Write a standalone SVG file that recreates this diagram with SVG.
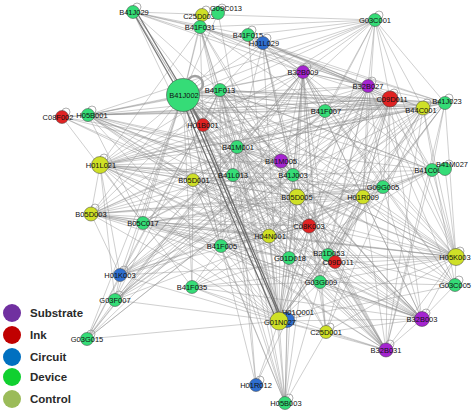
<svg xmlns="http://www.w3.org/2000/svg" width="474" height="414" viewBox="0 0 474 414">
<style>
.e{stroke:#8c8c8c;stroke-width:.7;fill:none;stroke-opacity:.6}
.lp{fill:none;stroke:#9a9a9a;stroke-width:.8}
circle.g{fill:#35dc77}
circle.y{fill:#cfe027}
circle.r{fill:#e02323}
circle.b{fill:#2f6fd0}
circle.p{fill:#a524d0}
.n circle{stroke:#3c3c3c;stroke-width:.5}
.n text{font-family:"Liberation Sans",Arial,sans-serif;font-size:7.5px;fill:#111;text-anchor:middle}
.lg text{font-family:"Liberation Sans",Arial,sans-serif;font-size:11.5px;font-weight:bold;fill:#2a2a2a}
</style>
<rect width="474" height="414" fill="#fff"/>
<g id="connectors">
<path class="e" d="M183 95L200 27M183 95L202 15M183 95L218 13M183 95L248 35M183 95L263 43M183 95L220 90M183 95L303 72M183 95L368 86M183 95L375 20M183 95L390 99M183 95L423 108M183 95L445 103M183 95L325 111M183 95L88 115M183 95L237 147M183 95L281 161M183 95L100 165M183 95L233 175M183 95L293 175M183 95L193 180M183 95L297 197M183 95L363 197M183 95L383 187M183 95L432 170M183 95L91 214M183 95L143 223M183 95L309 226M183 95L269 236M183 95L221 246M183 95L289 258M183 95L328 255M183 95L456 257M183 95L120 275M183 95L320 282M183 95L455 285M183 95L192 287M183 95L115 300M183 95L287 320M183 95L422 319M183 95L326 332M183 95L87 339M183 95L386 350M183 95L256 385M183 95L285 403"/>
<path class="e" d="M279 321L133 12M279 321L200 27M279 321L218 13M279 321L248 35M279 321L263 43M279 321L220 90M279 321L303 72M279 321L368 86M279 321L375 20M279 321L390 99M279 321L423 108M279 321L445 103M279 321L325 111M279 321L88 115M279 321L203 125M279 321L237 147M279 321L281 161M279 321L100 165M279 321L233 175M279 321L293 175M279 321L193 180M279 321L297 197M279 321L363 197M279 321L383 187M279 321L91 214M279 321L143 223M279 321L309 226M279 321L269 236M279 321L221 246M279 321L289 258M279 321L328 255M279 321L456 257M279 321L120 275M279 321L320 282M279 321L455 285M279 321L192 287M279 321L115 300M279 321L422 319M279 321L326 332M279 321L87 339M279 321L386 350M279 321L256 385M279 321L285 403"/>
<path class="e" d="M456 257L375 20M456 257L303 72M456 257L368 86M456 257L390 99M456 257L423 108M456 257L445 103M456 257L220 90M456 257L237 147M456 257L100 165M456 257L88 115M456 257L363 197M456 257L383 187M456 257L432 170M456 257L445 169M456 257L269 236M456 257L289 258M456 257L328 255M456 257L309 226M456 257L297 197M456 257L455 285M456 257L422 319M456 257L386 350M456 257L326 332M456 257L320 282M456 257L192 287M456 257L120 275M456 257L91 214M456 257L143 223M456 257L325 111M456 257L293 175"/>
<path class="e" d="M390 99L375 20M390 99L368 86M390 99L303 72M390 99L423 108M390 99L445 103M390 99L325 111M390 99L88 115M390 99L62 117M390 99L100 165M390 99L237 147M390 99L281 161M390 99L293 175M390 99L297 197M390 99L363 197M390 99L383 187M390 99L309 226M390 99L328 255M390 99L335 262M390 99L120 275M390 99L115 300M390 99L87 339M390 99L422 319M390 99L386 350M390 99L326 332M390 99L143 223M390 99L91 214M390 99L220 90M390 99L263 43M390 99L248 35M390 99L203 125M390 99L432 170"/>
<path class="e" d="M100 165L91 214M100 165L120 275M100 165L115 300M100 165L220 90M100 165L303 72M100 165L237 147M100 165L325 111M100 165L368 86M100 165L423 108M100 165L445 103M100 165L281 161M100 165L293 175M100 165L297 197M100 165L193 180M100 165L233 175M100 165L143 223M100 165L363 197M100 165L309 226M100 165L269 236M100 165L289 258M100 165L383 187M100 165L422 319M100 165L386 350M100 165L203 125M100 165L200 27"/>
<path class="e" d="M422 319L91 214M422 319L143 223M422 319L192 287M422 319L221 246M422 319L269 236M422 319L309 226M422 319L297 197M422 319L293 175M422 319L237 147M422 319L220 90M422 319L303 72M422 319L363 197M422 319L383 187M422 319L289 258M422 319L320 282M422 319L326 332M422 319L386 350M422 319L455 285M422 319L88 115M422 319L281 161M422 319L328 255M422 319L203 125"/>
<path class="e" d="M386 350L237 147M386 350L221 246M386 350L233 175M386 350L193 180M386 350L297 197M386 350L309 226M386 350L269 236M386 350L289 258M386 350L320 282M386 350L328 255M386 350L326 332M386 350L192 287M386 350L203 125M386 350L293 175M386 350L220 90M386 350L281 161"/>
<path class="e" d="M285 403L287 320M285 403L233 175M285 403L237 147M285 403L289 258M285 403L193 180M285 403L221 246M285 403L320 282M285 403L309 226M285 403L297 197M285 403L203 125M285 403L269 236M285 403L326 332M256 385L287 320M256 385L233 175M256 385L237 147"/>
<path class="e" d="M375 20L133 12M375 20L200 27M375 20L248 35M375 20L263 43M375 20L303 72M375 20L368 86M375 20L325 111M375 20L423 108M375 20L445 103M375 20L88 115M375 20L203 125M375 20L237 147M375 20L363 197M375 20L220 90M375 20L293 175"/>
<path class="e" d="M88 115L62 117M88 115L220 90M88 115L325 111M88 115L423 108M88 115L445 103M88 115L237 147M88 115L281 161M88 115L293 175M88 115L297 197M88 115L309 226M88 115L269 236M88 115L289 258M88 115L335 262M88 115L143 223M88 115L233 175M88 115L303 72M88 115L368 86M62 117L143 223M62 117L193 180M62 117L237 147M62 117L309 226M62 117L293 175"/>
<path class="e" d="M120 275L220 90M120 275L237 147M120 275L325 111M120 275L297 197M120 275L293 175M120 275L309 226M120 275L281 161M120 275L303 72M120 275L115 300M120 275L87 339M120 275L91 214M120 275L363 197M120 275L383 187M115 300L220 90M115 300L237 147M115 300L303 72M115 300L325 111M115 300L293 175M115 300L297 197M115 300L309 226M115 300L87 339M115 300L281 161M115 300L368 86M87 339L237 147M87 339L220 90M87 339L325 111M87 339L293 175M87 339L303 72"/>
<path class="e" d="M91 214L143 223M91 214L237 147M91 214L220 90M91 214L293 175M91 214L297 197M91 214L309 226M91 214L269 236M91 214L289 258M91 214L363 197M91 214L383 187M91 214L221 246M91 214L328 255M91 214L233 175M91 214L303 72M91 214L325 111"/>
<path class="e" d="M133 12L200 27M133 12L220 90M133 12L263 43M133 12L303 72M133 12L368 86M133 12L203 125M133 12L237 147M133 12L233 175M133 12L248 35"/>
<path class="e" d="M303 72L200 27M303 72L248 35M303 72L263 43M303 72L325 111M303 72L368 86M303 72L445 103M303 72L237 147M303 72L293 175M303 72L297 197M303 72L363 197M303 72L383 187M303 72L432 170M303 72L309 226M303 72L328 255M303 72L320 282M303 72L326 332M303 72L455 285M303 72L233 175M303 72L221 246M303 72L269 236M303 72L289 258"/>
<path class="e" d="M368 86L325 111M368 86L263 43M368 86L248 35M368 86L200 27M368 86L293 175M368 86L237 147M368 86L432 170M368 86L383 187M368 86L363 197M368 86L309 226M368 86L328 255M368 86L455 285M368 86L297 197M368 86L233 175M368 86L269 236M368 86L320 282"/>
<path class="e" d="M200 27L220 90M200 27L237 147M200 27L233 175M200 27L203 125M200 27L325 111M200 27L423 108M200 27L445 103M200 27L293 175M200 27L297 197M263 43L248 35M263 43L325 111M263 43L237 147M263 43L293 175M263 43L423 108M263 43L445 103M263 43L297 197M263 43L309 226M263 43L220 90"/>
<path class="e" d="M423 108L445 103M423 108L220 90M423 108L325 111M423 108L237 147M423 108L293 175M423 108L297 197M423 108L309 226M423 108L328 255M423 108L386 350M423 108L326 332M423 108L320 282M423 108L455 285M423 108L269 236M445 103L325 111M445 103L220 90M445 103L237 147M445 103L297 197M445 103L309 226M445 103L432 170M445 103L383 187M445 103L386 350M445 103L328 255"/>
<path class="e" d="M432 170L445 169M432 170L383 187M432 170L363 197M432 170L293 175M432 170L237 147M432 170L297 197M432 170L220 90M432 170L309 226M432 170L269 236M432 170L289 258M432 170L386 350M363 197L383 187M363 197L297 197M363 197L293 175M363 197L237 147M363 197L309 226M363 197L269 236M363 197L289 258M363 197L328 255M363 197L335 262M363 197L221 246M363 197L320 282M363 197L386 350M363 197L143 223"/>
<path class="e" d="M220 90L325 111M220 90L237 147M220 90L281 161M220 90L233 175M220 90L293 175M220 90L193 180M220 90L297 197M220 90L309 226M220 90L269 236M220 90L221 246M220 90L383 187M220 90L432 170M220 90L289 258M237 147L281 161M237 147L233 175M237 147L293 175M237 147L193 180M237 147L297 197M237 147L309 226M237 147L269 236M237 147L221 246M237 147L289 258M237 147L143 223M237 147L325 111M237 147L383 187M237 147L328 255M237 147L320 282"/>
<path class="e" d="M193 180L143 223M193 180L233 175M193 180L297 197M193 180L309 226M193 180L269 236M193 180L221 246M193 180L289 258M193 180L192 287M193 180L383 187M143 223L221 246M143 223L269 236M143 223L309 226M143 223L297 197M143 223L233 175M143 223L289 258M143 223L383 187M143 223L192 287M192 287L221 246M192 287L289 258M192 287L297 197M192 287L320 282M192 287L309 226M221 246L289 258M221 246L309 226M221 246L269 236M221 246L297 197M221 246L320 282"/>
<path class="e" d="M297 197L293 175M297 197L309 226M297 197L281 161M297 197L269 236M297 197L289 258M297 197L383 187M297 197L328 255M309 226L289 258M309 226L269 236M309 226L328 255M309 226L320 282M309 226L326 332M289 258L320 282M289 258L328 255M289 258L326 332M328 255L335 262M320 282L326 332M320 282L455 285M455 285L328 255M455 285L383 187M455 285L363 197M455 285L309 226"/>
<path d="M181 96L133 12M185 94L136 11" stroke="#7a7a7a" stroke-width="1.3" fill="none"/>
<path d="M181 98L277 321M185 97L281 320M188 96L283 321" stroke="#6e6e6e" stroke-width="1.2" fill="none"/>
<path d="M185 96L203 125" stroke="#777" stroke-width="1.5" fill="none"/>
<circle cx="195" cy="84" r="8" fill="none" stroke="#a0a0a0" stroke-width="2.5"/>
<g class="lp">
<circle cx="137" cy="7" r="4"/><circle cx="222" cy="8" r="4"/><circle cx="252" cy="30" r="4"/><circle cx="267" cy="38" r="4"/>
<circle cx="92" cy="110" r="4"/><circle cx="379" cy="15" r="4"/><circle cx="394" cy="93" r="4"/><circle cx="449" cy="98" r="4"/>
<circle cx="104" cy="158" r="4"/><circle cx="95" cy="208" r="4"/><circle cx="124" cy="270" r="4"/><circle cx="119" cy="295" r="4"/>
<circle cx="91" cy="334" r="4"/><circle cx="284" cy="314" r="4"/><circle cx="291" cy="315" r="4"/><circle cx="460" cy="251" r="4"/>
<circle cx="426" cy="313" r="4"/><circle cx="390" cy="344" r="4"/><circle cx="289" cy="398" r="4"/><circle cx="260" cy="380" r="4"/>
<circle cx="449" cy="164" r="4"/><circle cx="330" cy="327" r="4"/><circle cx="459" cy="280" r="4"/><circle cx="372" cy="81" r="4"/>
<circle cx="206" cy="10" r="4"/><circle cx="66" cy="112" r="4"/><circle cx="307" cy="67" r="4"/><circle cx="427" cy="103" r="4"/>
</g>
</g>
<g id="nodes" class="n">
<g id="n-B41J029"><circle class="g" cx="133" cy="12" r="6.5"/><text x="134" y="14.7">B41J029</text></g>
<g id="n-C25D003"><circle class="y" cx="202" cy="15" r="6.5"/><text x="199" y="18.5">C25D003</text></g>
<g id="n-G09C013"><circle class="g" cx="218" cy="13" r="6.5"/><text x="226" y="10.5">G09C013</text></g>
<g id="n-B41F031"><circle class="g" cx="200" cy="27" r="6.5"/><text x="200" y="30">B41F031</text></g>
<g id="n-B41F015"><circle class="g" cx="248" cy="35" r="6.5"/><text x="248" y="38">B41F015</text></g>
<g id="n-H01L029"><circle class="b" cx="263" cy="43" r="6.5"/><text x="264" y="46">H01L029</text></g>
<g id="n-B32B009"><circle class="p" cx="303" cy="72" r="6.5"/><text x="303" y="74.7">B32B009</text></g>
<g id="n-G03C001"><circle class="g" cx="375" cy="20" r="6.5"/><text x="375" y="23">G03C001</text></g>
<g id="n-B32B027"><circle class="p" cx="368" cy="86" r="6.5"/><text x="368" y="88.7">B32B027</text></g>
<g id="n-B41J023"><circle class="g" cx="445" cy="103" r="6.5"/><text x="447" y="104">B41J023</text></g>
<g id="n-C09D011"><circle class="r" cx="390" cy="99" r="8"/><text x="392" y="101.7">C09D011</text></g>
<g id="n-B44C001"><circle class="y" cx="423" cy="108" r="7"/><text x="421" y="112.5">B44C001</text></g>
<g id="n-B41F007"><circle class="g" cx="325" cy="111" r="6.5"/><text x="326" y="113.7">B41F007</text></g>
<g id="n-B41F013"><circle class="g" cx="220" cy="90" r="6.5"/><text x="220" y="92.7">B41F013</text></g>
<g id="n-B41J002"><circle class="g" cx="183" cy="95" r="16.5" stroke-width=".8"/><text x="184" y="97.7">B41J002</text></g>
<g id="n-C08F002"><circle class="r" cx="62" cy="117" r="6.5"/><text x="58" y="119.7">C08F002</text></g>
<g id="n-H05B001"><circle class="g" cx="88" cy="115" r="6.5"/><text x="92" y="117.7">H05B001</text></g>
<g id="n-H01B001"><circle class="r" cx="203" cy="125" r="6.5"/><text x="203" y="127.7">H01B001</text></g>
<g id="n-B41M001"><circle class="g" cx="237" cy="147" r="6.5"/><text x="238" y="149.7">B41M001</text></g>
<g id="n-B41M005"><circle class="p" cx="281" cy="161" r="7"/><text x="281" y="163.7">B41M005</text></g>
<g id="n-H01L021"><circle class="y" cx="100" cy="165" r="8.5"/><text x="101" y="167.7">H01L021</text></g>
<g id="n-B41L013"><circle class="g" cx="233" cy="175" r="6.5"/><text x="233" y="177.7">B41L013</text></g>
<g id="n-B41J003"><circle class="g" cx="293" cy="175" r="6.5"/><text x="293" y="177.7">B41J003</text></g>
<g id="n-B05D001"><circle class="y" cx="193" cy="180" r="6.5"/><text x="194" y="182.7">B05D001</text></g>
<g id="n-B05D005"><circle class="y" cx="297" cy="197" r="8"/><text x="297" y="199.7">B05D005</text></g>
<g id="n-B41C001"><circle class="g" cx="432" cy="170" r="6.5"/><text x="430" y="172.7">B41C001</text></g>
<g id="n-B41M027"><circle class="g" cx="445" cy="169" r="6.5"/><text x="452" y="166.5">B41M027</text></g>
<g id="n-G09G005"><circle class="g" cx="383" cy="187" r="6.5"/><text x="383" y="189.7">G09G005</text></g>
<g id="n-H01R009"><circle class="y" cx="363" cy="197" r="7"/><text x="363" y="199.7">H01R009</text></g>
<g id="n-B05D003"><circle class="y" cx="91" cy="214" r="7"/><text x="91" y="216.7">B05D003</text></g>
<g id="n-B05C017"><circle class="g" cx="143" cy="223" r="6.5"/><text x="143" y="225.7">B05C017</text></g>
<g id="n-C08K003"><circle class="r" cx="309" cy="226" r="7"/><text x="309" y="228.7">C08K003</text></g>
<g id="n-H04N001"><circle class="y" cx="269" cy="236" r="7"/><text x="270" y="238.7">H04N001</text></g>
<g id="n-B41F005"><circle class="g" cx="221" cy="246" r="6.5"/><text x="222" y="248.7">B41F005</text></g>
<g id="n-G01D018"><circle class="g" cx="289" cy="258" r="6.5"/><text x="290" y="260.7">G01D018</text></g>
<g id="n-B21D053"><circle class="g" cx="328" cy="255" r="6.5"/><text x="329" y="256">B21D053</text></g>
<g id="n-C09D011-b"><circle class="r" cx="335" cy="262" r="6.5"/><text x="338" y="265">C09D011</text></g>
<g id="n-H05K003"><circle class="y" cx="456" cy="257" r="8.5"/><text x="455" y="259.7">H05K003</text></g>
<g id="n-H01K003"><circle class="b" cx="120" cy="275" r="6.5"/><text x="120" y="277.7">H01K003</text></g>
<g id="n-G03G009"><circle class="g" cx="320" cy="282" r="6.5"/><text x="321" y="284.7">G03G009</text></g>
<g id="n-G03C005"><circle class="g" cx="455" cy="285" r="6.5"/><text x="455" y="287.7">G03C005</text></g>
<g id="n-B41F035"><circle class="g" cx="192" cy="287" r="6.5"/><text x="192" y="289.7">B41F035</text></g>
<g id="n-G03F007"><circle class="g" cx="115" cy="300" r="6.5"/><text x="115" y="302.7">G03F007</text></g>
<g id="n-H01Q001"><circle class="b" cx="287" cy="320" r="7.5"/><text x="298" y="315">H01Q001</text></g>
<g id="n-G01N027"><circle class="y" cx="279" cy="321" r="9"/><text x="280" y="325">G01N027</text></g>
<g id="n-B32B003"><circle class="p" cx="422" cy="319" r="7.5"/><text x="422" y="321.7">B32B003</text></g>
<g id="n-C25D001"><circle class="y" cx="326" cy="332" r="6.5"/><text x="326" y="334.7">C25D001</text></g>
<g id="n-G03G015"><circle class="g" cx="87" cy="339" r="6.5"/><text x="87" y="341.7">G03G015</text></g>
<g id="n-B32B031"><circle class="p" cx="386" cy="350" r="7"/><text x="386" y="352.7">B32B031</text></g>
<g id="n-H01R012"><circle class="b" cx="256" cy="385" r="6.5"/><text x="256" y="387.7">H01R012</text></g>
<g id="n-H05B003"><circle class="g" cx="285" cy="403" r="6.5"/><text x="286" y="405.7">H05B003</text></g>
</g>
<g id="legend" class="lg">
<circle cx="12" cy="313" r="9" fill="#7030a0"/><text x="30" y="317">Substrate</text>
<circle cx="12" cy="335" r="9" fill="#c00000"/><text x="30" y="339">Ink</text>
<circle cx="12" cy="357" r="9" fill="#0070c0"/><text x="30" y="361">Circuit</text>
<circle cx="12" cy="377" r="9" fill="#10d030"/><text x="30" y="381">Device</text>
<circle cx="12" cy="399" r="9" fill="#9bbb59"/><text x="30" y="403">Control</text>
</g>
</svg>
